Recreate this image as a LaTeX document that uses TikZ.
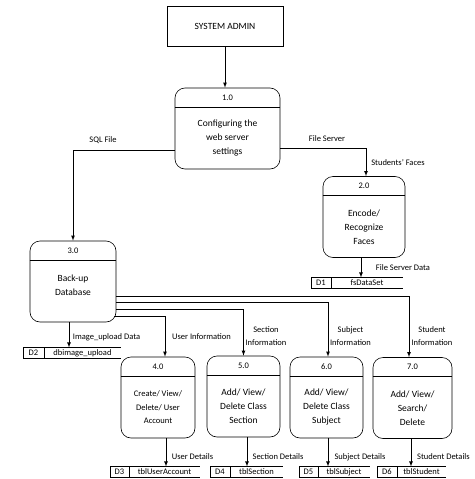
\documentclass[tikz,border=0pt]{standalone}
\usepackage{fontspec}
\setmainfont{Carlito}
\usetikzlibrary{arrows,positioning}
\tikzstyle{extent}=[rectangle,draw=black,semithick,minimum width=116pt,minimum height=40pt,font=\fontsize{9.5}{11}\selectfont]
\tikzstyle{proc}=[rectangle,rounded corners=10pt,draw=black,semithick,minimum height=81pt,inner sep=0pt]
\tikzstyle{pnum}=[anchor=north,minimum height=19pt,inner sep=0pt,font=\fontsize{8.5}{10}\selectfont]
\tikzstyle{ptext}=[minimum height=62pt,inner sep=0pt,align=center,font=\fontsize{9.5}{14}\selectfont]
\tikzstyle{dsid}=[rectangle,draw=black,semithick,minimum height=10.5pt,inner sep=0pt,font=\fontsize{8.5}{10}\selectfont]
\tikzstyle{dsname}=[minimum height=10.5pt,inner sep=0pt,font=\fontsize{8.5}{10}\selectfont]
\tikzstyle{flow}=[->,>=latex,thick]
\tikzstyle{lbl}=[inner sep=0pt,align=center,font=\fontsize{8.5}{13}\selectfont]

\begin{document}
\begin{tikzpicture}[x=1pt,y=-1pt]
\useasboundingbox (0,0) rectangle (474,479);
% external entity
\node[extent] (admin) at (225,26) {SYSTEM ADMIN};
% processes
\node[proc,minimum width=105pt] (p1) at (227.5,128.5) {};
\node[pnum] (p1n) at (p1.north) {1.0};
\node[ptext,below=0pt of p1n] (p1t) {Configuring the\\web server\\settings};
\draw[semithick] (p1.west |- p1n.south) -- (p1.east |- p1n.south);
\node[proc,minimum width=82pt] (p2) at (364,217) {};
\node[pnum] (p2n) at (p2.north) {2.0};
\node[ptext,below=0pt of p2n] (p2t) {Encode/\\Recognize\\Faces};
\draw[semithick] (p2.west |- p2n.south) -- (p2.east |- p2n.south);
\node[proc,minimum width=86pt] (p3) at (73,281.5) {};
\node[pnum] (p3n) at (p3.north) {3.0};
\node[ptext,below=0pt of p3n,minimum height=50pt] (p3t) {Back-up\\Database};
\draw[semithick] (p3.west |- p3n.south) -- (p3.east |- p3n.south);
\node[proc,minimum width=74pt] (p4) at (158,397.5) {};
\node[pnum] (p4n) at (p4.north) {4.0};
\node[ptext,below=0pt of p4n,font=\fontsize{8.5}{13.5}\selectfont] (p4t) {Create/ View/\\Delete/ User\\Account};
\draw[semithick] (p4.west |- p4n.south) -- (p4.east |- p4n.south);
\node[proc,minimum width=73pt] (p5) at (243.5,396.5) {};
\node[pnum] (p5n) at (p5.north) {5.0};
\node[ptext,below=0pt of p5n] (p5t) {Add/ View/\\Delete Class\\Section};
\draw[semithick] (p5.west |- p5n.south) -- (p5.east |- p5n.south);
\node[proc,minimum width=73pt] (p6) at (326.5,397.5) {};
\node[pnum] (p6n) at (p6.north) {6.0};
\node[ptext,below=0pt of p6n] (p6t) {Add/ View/\\Delete Class\\Subject};
\draw[semithick] (p6.west |- p6n.south) -- (p6.east |- p6n.south);
\node[proc,minimum width=79pt] (p7) at (412.5,398) {};
\node[pnum] (p7n) at (p7.north) {7.0};
\node[ptext,below=0pt of p7n] (p7t) {Add/ View/\\Search/\\Delete};
\draw[semithick] (p7.west |- p7n.south) -- (p7.east |- p7n.south);
% data stores
\node[dsid,minimum width=20pt] (d1) at (321,283) {D1};
\node[dsname,minimum width=71pt,right=0pt of d1] (d1t) {fsDataSet};
\draw[semithick] (d1t.north west) -- (d1t.north east) (d1t.south west) -- (d1t.south east);
\node[dsid,minimum width=21pt] (d2) at (33.5,353) {D2};
\node[dsname,minimum width=76pt,right=0pt of d2] (d2t) {dbimage\_upload};
\draw[semithick] (d2t.north west) -- (d2t.north east) (d2t.south west) -- (d2t.south east);
\node[dsid,minimum width=19pt] (d3) at (119.5,472) {D3};
\node[dsname,minimum width=70pt,right=0pt of d3] (d3t) {tblUserAccount};
\draw[semithick] (d3t.north west) -- (d3t.north east) (d3t.south west) -- (d3t.south east);
\node[dsid,minimum width=20pt] (d4) at (220,472) {D4};
\node[dsname,minimum width=52pt,right=0pt of d4] (d4t) {tblSection};
\draw[semithick] (d4t.north west) -- (d4t.north east) (d4t.south west) -- (d4t.south east);
\node[dsid,minimum width=19pt] (d5) at (308.5,472) {D5};
\node[dsname,minimum width=51pt,right=0pt of d5] (d5t) {tblSubject};
\draw[semithick] (d5t.north west) -- (d5t.north east) (d5t.south west) -- (d5t.south east);
\node[dsid,minimum width=20pt] (d6) at (387,472) {D6};
\node[dsname,minimum width=48pt,right=0pt of d6] (d6t) {tblStudent};
\draw[semithick] (d6t.north west) -- (d6t.north east) (d6t.south west) -- (d6t.south east);
% flows
\draw[flow] (admin) -- (admin |- p1.north);
\draw[flow] ([yshift=-21.5pt]p1.west) -| (p3.north);
\draw[flow] ([yshift=-19.5pt]p1.east) -| ([xshift=2pt]p2.north);
\draw[flow] ([xshift=-3pt]p2.south) -- ([xshift=-3pt]p2.south |- d1t.north);
\draw[flow] ([xshift=-4pt]p3.south) -- ([xshift=-4pt]p3.south |- d2t.north);
\draw[flow] ([yshift=-14.5pt]p3.east) -| ([xshift=-3.5pt]p7.north);
\draw[flow] ([yshift=-20.5pt]p3.east) -| ([xshift=1.5pt]p6.north);
\draw[flow] ([yshift=-27.5pt]p3.east) -| (p5.north);
\draw[flow] ([xshift=-2pt,yshift=-35pt]p3.east) -| ([xshift=7pt]p4.north);
\draw[flow] ([xshift=8pt]p4.south) -- ([xshift=8pt]p4.south |- d3t.north);
\draw[flow] ([xshift=3.5pt]p5.south) -- ([xshift=3.5pt]p5.south |- d4t.north);
\draw[flow] ([xshift=1.5pt]p6.south) -- ([xshift=1.5pt]p6.south |- d5t.north);
\draw[flow] ([xshift=-1.5pt]p7.south) -- ([xshift=-1.5pt]p7.south |- d6t.north);
% flow labels
\node[lbl] (l1) at (103,140) {SQL File};
\node[lbl] (l2) at (327,139) {File Server};
\node[lbl] (l3) at (398,163) {Students’ Faces};
\node[lbl] (l4) at (403,268) {File Server Data};
\node[lbl] (l5) at (106.5,337) {Image\_upload Data};
\node[lbl] (l6) at (201.5,337) {User Information};
\node[lbl] (l7) at (266,336.5) {Section\\Information};
\node[lbl] (l8) at (350.5,336.5) {Subject\\Information};
\node[lbl] (l9) at (432,336.5) {Student\\Information};
\node[lbl] (l10) at (192.5,457) {User Details};
\node[lbl] (l11) at (278,457) {Section Details};
\node[lbl] (l12) at (360,457) {Subject Details};
\node[lbl] (l13) at (443.5,457) {Student Details};
\end{tikzpicture}
\end{document}
